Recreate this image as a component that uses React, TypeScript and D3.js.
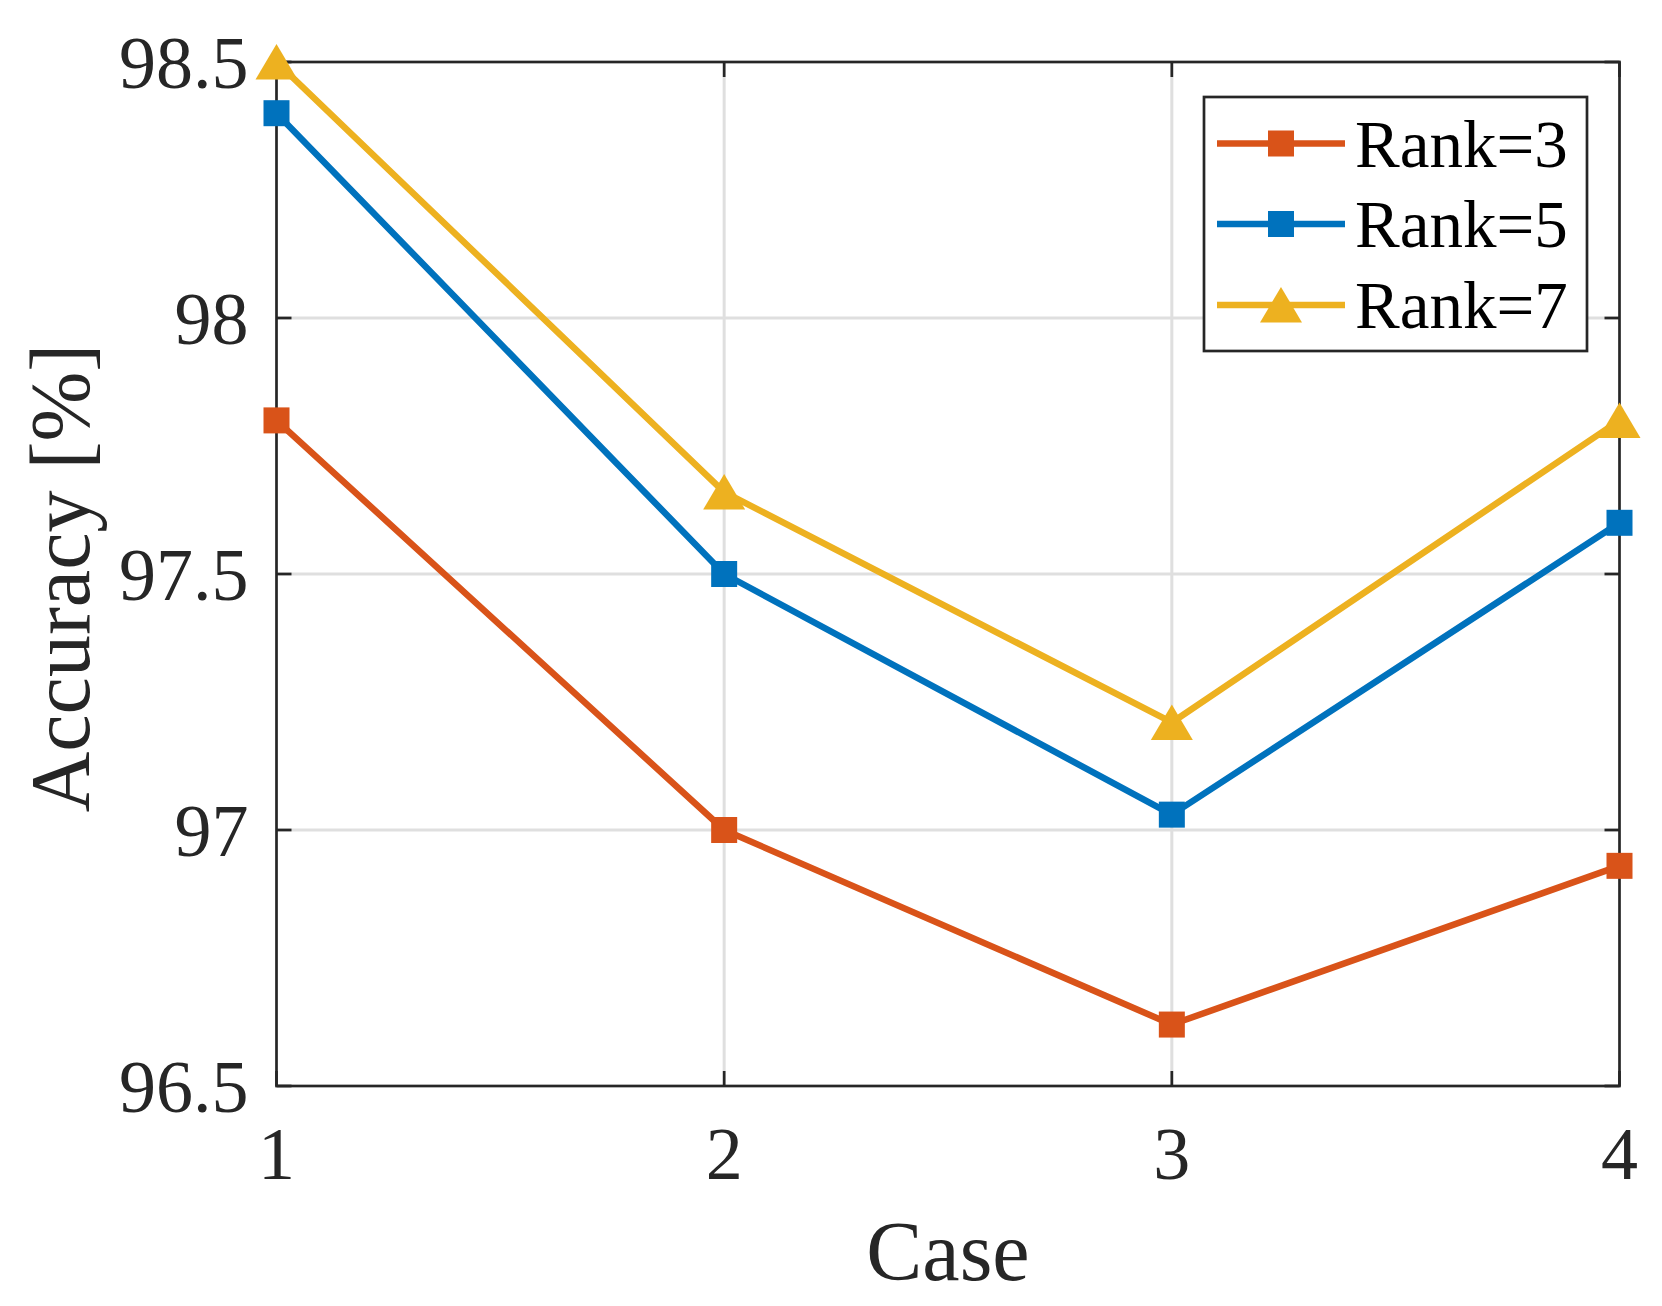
import React from 'react';
import * as d3 from 'd3';

const cases = [1, 2, 3, 4];
const rank3 = [97.8, 97.0, 96.62, 96.93];
const rank5 = [98.4, 97.5, 97.03, 97.6];
const rank7 = [98.5, 97.66, 97.21, 97.8];
const yTicks = [96.5, 97, 97.5, 98, 98.5];
const seriesNames = ['Rank=3', 'Rank=5', 'Rank=7'];

const W = 1662;
const H = 1306;
const margin = { left: 276.5, right: 1662 - 1619.5, top: 62, bottom: 1306 - 1086 };
const font = '"Liberation Serif", "Times New Roman", serif';
const ink = '#262626';

const series = [
  { name: seriesNames[0], values: rank3, color: '#D95319', marker: 'square' },
  { name: seriesNames[1], values: rank5, color: '#0072BD', marker: 'square' },
  { name: seriesNames[2], values: rank7, color: '#EDB120', marker: 'triangle' },
];

function Marker({ type, x, y, color }: { type: string; x: number; y: number; color: string }) {
  if (type === 'square') {
    return <rect x={x - 13} y={y - 13} width={26} height={26} fill={color} />;
  }
  // upward triangle, centred on its bounding box
  const pts = `${x},${y - 18} ${x - 21},${y + 17.5} ${x + 21},${y + 17.5}`;
  return <polygon points={pts} fill={color} />;
}

export default function App() {
  const x = d3.scaleLinear().domain([1, 4]).range([margin.left, W - margin.right]);
  const y = d3.scaleLinear().domain([96.5, 98.5]).range([H - margin.bottom, margin.top]);
  const x0 = x.range()[0], x1 = x.range()[1];
  const y0 = y.range()[0], y1 = y.range()[1];
  const tickLen = 15;

  const line = d3.line<number>()
    .x((_, i) => x(cases[i]))
    .y(d => y(d));

  // legend geometry
  const lg = { left: 1204, top: 97, right: 1587, bottom: 351 };
  const rowY = [143.5, 224, 305];

  return (
    <svg width={W} height={H} style={{ position: 'absolute', left: 0, top: 0, background: '#fff' }}
      fontFamily={font}>
      <rect x={0} y={0} width={W} height={H} fill="#fff" />

      {/* grid */}
      <g stroke="#dfdfdf" strokeWidth={3}>
        {cases.slice(1, -1).map(c => (
          <line key={'gx' + c} x1={x(c)} x2={x(c)} y1={y1} y2={y0} />
        ))}
        {yTicks.slice(1, -1).map(t => (
          <line key={'gy' + t} x1={x0} x2={x1} y1={y(t)} y2={y(t)} />
        ))}
      </g>

      {/* ticks on all four sides */}
      <g stroke={ink} strokeWidth={2.7}>
        {cases.map(c => (
          <g key={'tx' + c}>
            <line x1={x(c)} x2={x(c)} y1={y0} y2={y0 - tickLen} />
            <line x1={x(c)} x2={x(c)} y1={y1} y2={y1 + tickLen} />
          </g>
        ))}
        {yTicks.map(t => (
          <g key={'ty' + t}>
            <line x1={x0} x2={x0 + tickLen} y1={y(t)} y2={y(t)} />
            <line x1={x1} x2={x1 - tickLen} y1={y(t)} y2={y(t)} />
          </g>
        ))}
      </g>
      <rect x={x0} y={y1} width={x1 - x0} height={y0 - y1} fill="none" stroke={ink} strokeWidth={2.7} />

      {/* tick labels */}
      <g fill={ink} fontSize={74}>
        {cases.map(c => (
          <text key={'lx' + c} x={x(c)} y={1179} textAnchor="middle">{c}</text>
        ))}
        {yTicks.map(t => (
          <text key={'ly' + t} x={x0 - 28} y={y(t) + 25.5} textAnchor="end">{t}</text>
        ))}
      </g>

      {/* axis labels */}
      <text x={(x0 + x1) / 2} y={1280} textAnchor="middle" fontSize={84} fill={ink}>Case</text>
      <text transform={`translate(89,${(y0 + y1) / 2 + 4}) rotate(-90)`} textAnchor="middle"
        fontSize={84} fill={ink}>Accuracy [%]</text>

      {/* data */}
      {series.map(s => (
        <g key={s.name}>
          <path d={line(s.values) || ''} fill="none" stroke={s.color} strokeWidth={6.5}
            strokeLinejoin="round" />
          {s.values.map((v, i) => (
            <Marker key={i} type={s.marker} x={x(cases[i])} y={y(v)} color={s.color} />
          ))}
        </g>
      ))}

      {/* legend */}
      <rect x={lg.left} y={lg.top} width={lg.right - lg.left} height={lg.bottom - lg.top}
        fill="#fff" stroke={ink} strokeWidth={2.7} />
      {series.map((s, i) => (
        <g key={'lg' + s.name}>
          <line x1={1217} x2={1345} y1={rowY[i]} y2={rowY[i]} stroke={s.color} strokeWidth={6.5} />
          <Marker type={s.marker} x={1281} y={rowY[i]} color={s.color} />
          <text x={1355} y={rowY[i] + 23} fontSize={67} fill="#000">{s.name}</text>
        </g>
      ))}
    </svg>
  );
}
